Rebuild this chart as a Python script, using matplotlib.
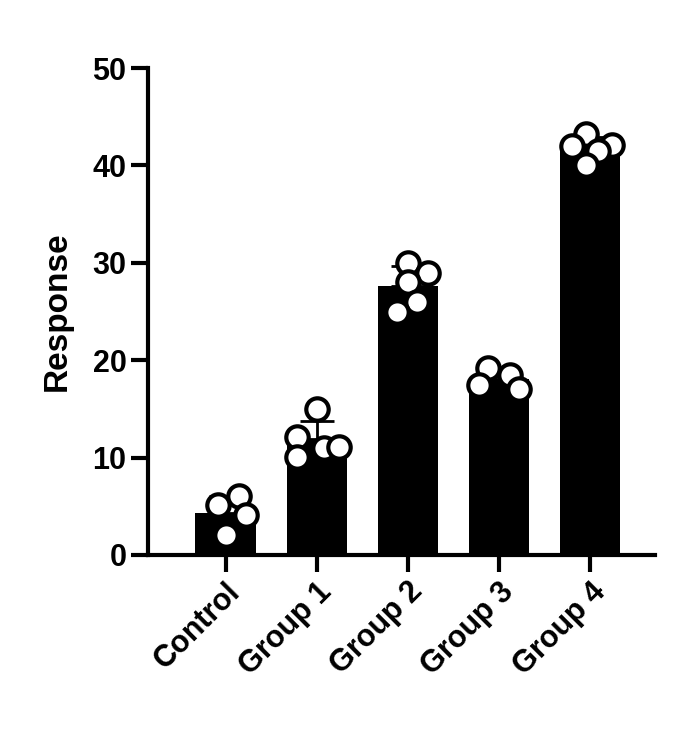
import numpy as np
import matplotlib
matplotlib.use("Agg")
import matplotlib.pyplot as plt

plt.rcParams['font.family'] = ['Liberation Sans', 'DejaVu Sans']
plt.rcParams['font.weight'] = 'bold'

groups = ["Control", "Group 1", "Group 2", "Group 3", "Group 4"]
points = [
    [5.1, 6.1, 4.1, 2.1],
    [15.0, 12.1, 10.1, 11.0, 11.1],
    [30.0, 29.0, 28.0, 26.0, 25.0],
    [19.2, 17.5, 18.5, 17.0],
    [43.2, 42.0, 42.1, 41.5, 40.0],
]
offsets = [
    [-0.08, 0.15, 0.22, 0.0],
    [0.0, -0.22, -0.22, 0.08, 0.24],
    [0.0, 0.22, 0.0, 0.1, -0.12],
    [-0.12, -0.22, 0.12, 0.22],
    [-0.05, -0.2, 0.24, 0.08, -0.05],
]

means = [np.mean(p) for p in points]
sds = [np.std(p, ddof=1) for p in points]

fig = plt.figure(figsize=(6.8, 7.42), dpi=100)
ax = fig.add_axes([148/680, 1-555/742, (655-148)/680, (555-68)/742])
x = np.arange(len(groups))
ax.bar(x, means, width=0.66, color='black', zorder=1)
ax.errorbar(x, means, yerr=[np.zeros(len(x)), sds], fmt='none', ecolor='black',
            elinewidth=2, capsize=12, capthick=2, zorder=2)
for i, p in enumerate(points):
    ax.scatter(i + np.array(offsets[i]), p, s=260, facecolor='white',
               edgecolor='black', linewidths=3, zorder=3)

ax.set_xlim(-0.85, 4.71)
ax.set_ylim(0, 50)
ax.set_yticks([0, 10, 20, 30, 40, 50])
ax.set_xticks(x)
ax.set_xticklabels(groups, rotation=45, ha='right', rotation_mode='anchor')
ax.set_ylabel("Response", fontsize=24, fontweight='bold', labelpad=14)
ax.tick_params(axis='both', width=3, length=12, labelsize=22, direction='out')
for s in ['top', 'right']:
    ax.spines[s].set_visible(False)
for s in ['left', 'bottom']:
    ax.spines[s].set_linewidth(3)
fig.savefig("out.png", dpi=100)
